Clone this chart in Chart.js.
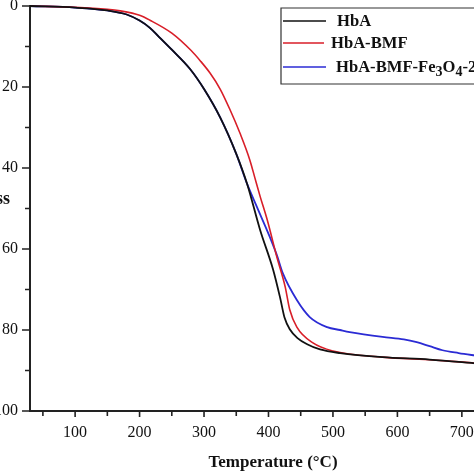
<!DOCTYPE html>
<html>
<head>
<meta charset="utf-8">
<script src="https://cdn.jsdelivr.net/npm/chart.js@4"></script>
<style>
html,body{margin:0;padding:0;width:474px;height:474px;overflow:hidden;background:#fff;}
#wrap{position:absolute;left:-40px;top:0;width:600px;height:474px;}
</style>
</head>
<body>
<div id="wrap"><canvas id="c" width="600" height="474"></canvas></div>
<script>
// ---- data ----
const hbaTemp = [30, 100, 150, 180, 200, 216, 230, 250, 278, 300, 325, 350, 367, 387, 407, 418, 425, 433, 445, 460, 480, 511, 577, 650, 725];
const hbaLoss = [0, 0.4, 1.1, 2.1, 3.6, 5.4, 7.6, 10.8, 15.5, 20.5, 27.5, 36.5, 44, 55.3, 65, 72, 77, 79.8, 82, 83.5, 84.8, 85.7, 86.7, 87.3, 88.3];

const bmfTemp = [30, 100, 150, 170, 200, 216, 250, 280, 294, 309, 325, 340, 356, 371, 379, 387, 398, 413, 426, 433, 444, 469, 500, 577, 655, 725];
const bmfLoss = [0, 0.3, 0.8, 1.2, 2.3, 3.5, 6.7, 11, 13.5, 16.5, 20.5, 25.5, 31.5, 38, 42.5, 47, 52.8, 62, 69.4, 75, 79.3, 83.2, 85.2, 86.7, 87.4, 88.2];

const feTemp = [30, 100, 150, 180, 200, 216, 230, 250, 278, 300, 325, 350, 367, 382, 402, 413, 422, 444, 464, 491, 511, 526, 577, 610, 630, 650, 670, 695, 725];
const feLoss = [0, 0.4, 1.1, 2.1, 3.6, 5.4, 7.6, 10.8, 15.5, 20.5, 27.5, 36.5, 44, 49.6, 57, 61.5, 65.9, 72.6, 76.8, 79.3, 80, 80.5, 81.7, 82.3, 83, 84, 85, 85.7, 86.4];

const seriesNames = ['HbA', 'HbA-BMF', 'HbA-BMF-Fe3O4-2'];
const xTickValues = [100, 200, 300, 400, 500, 600, 700];
const xMinorValues = [50, 150, 250, 350, 450, 550, 650, 750];
const yTickValues = [0, 20, 40, 60, 80, 100];
const yMinorValues = [10, 30, 50, 70, 90];
const xTitle = 'Temperature (°C)';
const yTitle = 'Weight Loss';

const colors = ['#111111', '#d81e28', '#2b2bd4'];
const serif = '"Liberation Serif", "DejaVu Serif", serif';

function pts(t, v) { return t.map((x, i) => ({x: x, y: v[i]})); }

const tickPlugin = {
  id: 'extras',
  afterDraw(chart) {
    const ctx = chart.ctx;
    const xs = chart.scales.x, ys = chart.scales.y;
    const ca = chart.chartArea;
    ctx.save();
    ctx.strokeStyle = '#222';
    ctx.lineWidth = 1.6;
    ctx.beginPath();
    xTickValues.forEach(v => { const p = xs.getPixelForValue(v); ctx.moveTo(p, ca.bottom); ctx.lineTo(p, ca.bottom + 6); });
    xMinorValues.forEach(v => { const p = xs.getPixelForValue(v); ctx.moveTo(p, ca.bottom); ctx.lineTo(p, ca.bottom + 5); });
    yTickValues.forEach(v => { const p = ys.getPixelForValue(v); ctx.moveTo(ca.left, p); ctx.lineTo(ca.left - 8, p); });
    yMinorValues.forEach(v => { const p = ys.getPixelForValue(v); ctx.moveTo(ca.left, p); ctx.lineTo(ca.left - 5, p); });
    ctx.stroke();

    // horizontal y-axis title (mostly cropped by the window)
    ctx.fillStyle = '#111';
    ctx.font = 'bold 18px ' + serif;
    ctx.textAlign = 'right';
    ctx.textBaseline = 'middle';
    ctx.fillText(yTitle, 50, 199);

    // legend box: top, left and bottom edges (right part lies outside the window)
    const bx = 321, by = 8, bRight = 600, bBottom = 84;
    ctx.lineWidth = 1.2;
    ctx.strokeStyle = '#333';
    ctx.beginPath();
    ctx.moveTo(bRight, by); ctx.lineTo(bx, by); ctx.lineTo(bx, bBottom); ctx.lineTo(bRight, bBottom);
    ctx.stroke();
    const rowsY = [21, 43, 67];
    const lineX = [[323, 366], [323, 364], [323, 366]];
    const textX = [377, 371, 376];
    rowsY.forEach((ry, i) => {
      ctx.strokeStyle = colors[i];
      ctx.lineWidth = 1.6;
      ctx.beginPath(); ctx.moveTo(lineX[i][0], ry); ctx.lineTo(lineX[i][1], ry); ctx.stroke();
    });
    ctx.fillStyle = '#111';
    ctx.textAlign = 'left';
    ctx.textBaseline = 'middle';
    const big = 'bold 16.6px ' + serif, small = 'bold 14px ' + serif;
    ctx.font = big;
    ctx.fillText(seriesNames[0], textX[0], rowsY[0] + 1);
    ctx.fillText(seriesNames[1], textX[1], rowsY[1] + 1);
    // third name with subscripts
    const parts = [['HbA-BMF-Fe', 0], ['3', 1], ['O', 0], ['4', 1], ['-2', 0]];
    let x = textX[2];
    parts.forEach(([s, sub]) => {
      ctx.font = sub ? small : big;
      ctx.fillText(s, x, rowsY[2] + 1 + (sub ? 4 : 0));
      x += ctx.measureText(s).width;
    });
    ctx.restore();
  }
};

new Chart(document.getElementById('c'), {
  type: 'line',
  data: {
    datasets: [
      {label: seriesNames[0], data: pts(hbaTemp, hbaLoss), borderColor: colors[0], borderWidth: 1.8},
      {label: seriesNames[1], data: pts(bmfTemp, bmfLoss), borderColor: colors[1], borderWidth: 1.6},
      {label: seriesNames[2], data: pts(feTemp, feLoss), borderColor: colors[2], borderWidth: 1.8}
    ].map(d => Object.assign(d, {pointRadius: 0, fill: false, cubicInterpolationMode: 'monotone', clip: false}))
  },
  options: {
    responsive: false,
    animation: false,
    devicePixelRatio: 1,
    layout: {padding: {top: 6, left: 0, right: 44, bottom: 0}},
    plugins: {legend: {display: false}, tooltip: {enabled: false}},
    scales: {
      x: {
        type: 'linear', min: 30, max: 784,
        grid: {display: false, drawTicks: false},
        border: {display: true, color: '#222', width: 2},
        ticks: {color: '#111', font: {family: serif, size: 16}, padding: 12},
        afterBuildTicks: s => { s.ticks = xTickValues.map(v => ({value: v})); },
        afterFit: s => { s.height = 63; s.paddingLeft = 0; s.paddingRight = 0; },
        title: {display: true, text: xTitle, color: '#111', font: {family: serif, size: 17, weight: 'bold'}, padding: {top: 0, bottom: 1}}
      },
      y: {
        type: 'linear', reverse: true, min: 0, max: 100,
        grid: {display: false, drawTicks: false},
        border: {display: true, color: '#222', width: 2},
        ticks: {color: '#111', font: {family: serif, size: 16}, padding: 12},
        afterBuildTicks: s => { s.ticks = yTickValues.map(v => ({value: v})); },
        afterFit: s => { s.width = 70; s.paddingTop = 0; s.paddingBottom = 0; }
      }
    }
  },
  plugins: [tickPlugin]
});
</script>
</body>
</html>
